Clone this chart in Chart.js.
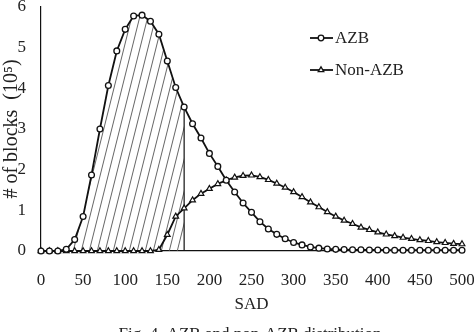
<!DOCTYPE html>
<html><head><meta charset="utf-8">
<script src="https://cdn.jsdelivr.net/npm/chart.js@4/dist/chart.umd.min.js"></script>
<style>html,body{margin:0;padding:0;background:#fff;overflow:hidden}#wrap{position:relative;width:474px;height:332px}</style>
</head><body><div id="wrap"><canvas id="c"></canvas></div>
<script>
// ---- data ----
const sadValues = [0,10,20,30,40,50,60,70,80,90,100,110,120,130,140,150,160,170,180,190,200,210,220,230,240,250,260,270,280,290,300,310,320,330,340,350,360,370,380,390,400,410,420,430,440,450,460,470,480,490,500];
const azbBlocks = [0,0,0,0.04,0.28,0.85,1.87,3.0,4.07,4.92,5.45,5.78,5.8,5.65,5.33,4.67,4.02,3.54,3.13,2.78,2.4,2.08,1.74,1.45,1.18,0.95,0.72,0.54,0.41,0.30,0.21,0.15,0.10,0.07,0.05,0.04,0.035,0.03,0.03,0.025,0.025,0.02,0.02,0.02,0.02,0.02,0.02,0.02,0.02,0.02,0.02];
const nonAzbBlocks = [0,0,0,0,0,0,0,0,0,0,0,0,0,0,0.03,0.40,0.85,1.05,1.25,1.41,1.53,1.65,1.74,1.81,1.85,1.86,1.82,1.75,1.66,1.56,1.45,1.33,1.20,1.08,0.96,0.85,0.75,0.67,0.58,0.52,0.46,0.41,0.37,0.33,0.30,0.27,0.25,0.22,0.20,0.18,0.17];
const hatchEnd = 170;
const xTicks = [0,50,100,150,200,250,300,350,400,450,500];
const yTicks = [0,1,2,3,4,5,6];
const seriesNames = ['AZB','Non-AZB'];
const xTitle = 'SAD';
const yTitle = '# of blocks  (10\u2075)';
const caption = 'Fig. 4. AZB and non-AZB distribution';

const FONT = "'Liberation Serif','Times New Roman',serif";
const TXT = '#222';

// hatch pattern
function makeHatch(){
  const c = document.createElement('canvas');
  c.width = 8; c.height = 32;
  const g = c.getContext('2d');
  g.strokeStyle = '#555'; g.lineWidth = 0.9;
  for (const dx of [-8,0,8]) {
    g.beginPath(); g.moveTo(dx-1, 36); g.lineTo(dx+9, -4); g.stroke();
  }
  return g.createPattern(c, 'repeat');
}

const toXY = arr => sadValues.map((x,i)=>({x:x, y:arr[i]}));
const hatchData = sadValues.map((x,i)=>({x:x, y: x<=hatchEnd ? azbBlocks[i] : null}));
const hatchIdx = sadValues.indexOf(hatchEnd);

const legendPlugin = {
  id:'customLegend',
  afterDraw(chart){
    const ctx = chart.ctx;
    ctx.save();
    const items = [
      {label: seriesNames[0], style:'circle', r:2.8, y:38},
      {label: seriesNames[1], style:'triangle', r:3.2, y:70}
    ];
    items.forEach(it=>{
      ctx.strokeStyle='#111'; ctx.lineWidth=1.8;
      ctx.beginPath(); ctx.moveTo(310,it.y); ctx.lineTo(333,it.y); ctx.stroke();
      ctx.fillStyle='#fff'; ctx.lineWidth=1.3;
      Chart.helpers.drawPoint(ctx,{pointStyle:it.style,radius:it.r,borderWidth:1.3,rotation:0},321,it.y);
      ctx.fillStyle=TXT; ctx.font='17px '+FONT; ctx.textAlign='left'; ctx.textBaseline='middle';
      ctx.fillText(it.label,335,it.y+1);
    });
    ctx.font='17px '+FONT; ctx.textAlign='center'; ctx.textBaseline='alphabetic';
    ctx.fillText(caption,250,339);
    ctx.restore();
  }
};

new Chart(document.getElementById('c'), {
  type:'line',
  data:{
    datasets:[
      {label:'hatch', data:hatchData, fill:'origin', backgroundColor:makeHatch(), borderWidth:0, pointRadius:0, spanGaps:false, order:4},
      {label:'cut', data:[{x:hatchEnd,y:0},{x:hatchEnd,y:azbBlocks[hatchIdx]}], borderColor:'#111', borderWidth:1.2, pointRadius:0, fill:false, order:3},
      {label:seriesNames[1], data:toXY(nonAzbBlocks), borderColor:'#111', borderWidth:1.8, pointStyle:'triangle', pointRadius:3.3, pointBorderWidth:1.2, pointBackgroundColor:'#fff', pointBorderColor:'#111', fill:false, tension:0, clip:false, order:2},
      {label:seriesNames[0], data:toXY(azbBlocks), borderColor:'#111', borderWidth:1.8, pointStyle:'circle', pointRadius:2.9, pointBorderWidth:1.3, pointBackgroundColor:'#fff', pointBorderColor:'#111', fill:false, tension:0, clip:false, order:1}
    ]
  },
  options:{
    responsive:true, maintainAspectRatio:false, animation:false,
    events:[],
    layout:{padding:{top:7,right:12,bottom:19,left:0}},
    plugins:{legend:{display:false}, tooltip:{enabled:false}},
    scales:{
      x:{type:'linear', min:0, max:500,
        afterBuildTicks(s){ s.ticks = xTicks.map(v=>({value:v})); },
        afterFit(s){ s.height=62; s.paddingLeft=0; s.paddingRight=0; },
        grid:{display:true, drawOnChartArea:false, drawTicks:false},
        border:{display:true, color:'#111', width:1.2},
        ticks:{color:TXT, font:{family:FONT,size:17}, padding:19, maxRotation:0},
        title:{display:true, text:xTitle, color:TXT, font:{family:FONT,size:17}, padding:{top:0,bottom:-2}}
      },
      y:{min:0, max:6,
        afterBuildTicks(s){ s.ticks = yTicks.map(v=>({value:v})); },
        afterFit(s){ s.width=41; s.paddingTop=0; s.paddingBottom=0; },
        grid:{display:true, drawOnChartArea:false, drawTicks:false},
        border:{display:true, color:'#111', width:1.2},
        ticks:{color:TXT, font:{family:FONT,size:17}, padding:15},
        title:{display:true, text:yTitle, color:TXT, font:{family:FONT,size:20}, padding:{top:0,bottom:0}}
      }
    }
  },
  plugins:[legendPlugin]
});
</script></body></html>
